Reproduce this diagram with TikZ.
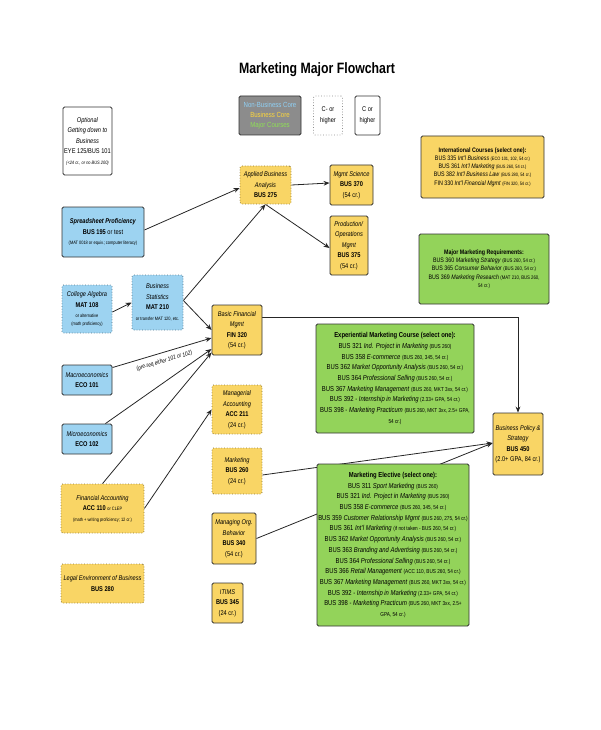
\documentclass[tikz,border=0pt]{standalone}
\usepackage{fontspec}
\setmainfont[FakeStretch=0.82]{Liberation Sans}
\usetikzlibrary{calc,arrows.meta}
\pgfdeclarelayer{bg}
\pgfsetlayers{bg,main}
\definecolor{ylw}{HTML}{F9D565}
\definecolor{blu}{HTML}{9DD3F1}
\definecolor{grn}{HTML}{93D35A}
\definecolor{lgrey}{HTML}{8C8C8C}
\definecolor{legblu}{HTML}{8FD0F5}
\definecolor{legylw}{HTML}{FFD83A}
\definecolor{leggrn}{HTML}{8FE055}
\newcommand{\sm}[1]{{\fontsize{4.8}{6}\selectfont #1}}
\newcommand{\smb}[1]{{\fontsize{5.7}{6}\selectfont #1}}
\newcommand{\smc}[1]{{\fontsize{5.2}{6}\selectfont #1}}
\newcommand{\basef}{\fontsize{6.9}{10.5}\selectfont}
\newcommand{\smallf}{\fontsize{6.5}{8.3}\selectfont}
\newcommand{\elecf}{\fontsize{7.2}{10.7}\selectfont}
\begin{document}
\begin{tikzpicture}[x=1pt,y=-1pt,
  box/.style={rectangle, rounded corners=1.5pt, align=center, inner sep=0.5pt, font=\basef},
  solidline/.style={draw=black!80, line width=0.9pt},
  ysol/.style={box, solidline, fill=ylw},
  bsol/.style={box, solidline, fill=blu},
  gsol/.style={box, solidline, fill=grn},
  wsol/.style={box, solidline, fill=white},
  ydot/.style={box, fill=ylw, draw=ylw!55!black, dotted, line width=0.75pt},
  bdot/.style={box, fill=blu, draw=blu!55!black, dotted, line width=0.75pt},
  wdot/.style={box, fill=white, draw=black!45, dotted, line width=0.75pt},
  legbox/.style={box, solidline, fill=lgrey},
  conn/.style={-{Stealth[length=6pt,width=4.8pt]}, line width=0.8pt, draw=black!85}
]
\useasboundingbox (0,0) rectangle (600,730);

\node[font=\fontsize{15}{17}\selectfont\bfseries] (title) at (317,70) {Marketing Major Flowchart};

\node[wsol, minimum width=49, minimum height=68] (opt) at (87.5,141)
 {\textit{Optional}\\\textit{Getting down to}\\\textit{Business}\\EYE 125/BUS 101\\\sm{\textit{(<24 cr., or no BUS 200)}}};

\node[legbox, font=\fontsize{7.4}{10}\selectfont, minimum width=62, minimum height=39] (leg) at (270,115.5)
 {\textcolor{legblu}{Non-Business Core}\\\textcolor{legylw}{Business Core}\\\textcolor{leggrn}{Major Courses}};
\node[wdot, minimum width=29, minimum height=39] (cm) at (328,115.5) {C- or\\higher};
\node[wsol, minimum width=25, minimum height=39] (cp) at (367.5,115.5) {C or\\higher};

\node[ysol, font=\smallf, minimum width=123, minimum height=62] (intl) at (482.5,167)
 {\textbf{International Courses (select one):}\\
  BUS 335 \textit{Int'l Business} \sm{(ECO 101, 102, 54 cr.)}\\
  BUS 361 \textit{Int'l Marketing} \sm{(BUS 260, 54 cr.)}\\
  BUS 382 \textit{Int'l Business Law} \sm{(BUS 280, 54 cr.)}\\
  FIN 330 \textit{Int'l Financial Mgmt} \sm{(FIN 320, 54 cr.)}};

\node[ydot, minimum width=51, minimum height=38] (abus) at (265.5,185)
 {\textit{Applied Business}\\\textit{Analysis}\\\textbf{BUS 275}};
\node[ysol, minimum width=43, minimum height=40] (msci) at (351.5,185)
 {\textit{Mgmt Science}\\\textbf{BUS 370}\\(54 cr.)};
\node[ysol, minimum width=38, minimum height=59] (prod) at (349,245.5)
 {\textit{Production/}\\\textit{Operations}\\\textit{Mgmt}\\\textbf{BUS 375}\\(54 cr.)};

\node[bsol, minimum width=82, minimum height=50] (sprd) at (103,232)
 {\textbf{\textit{Spreadsheet Proficiency}}\\\textbf{BUS 195} or test\\\sm{(MAT 0018 or equiv.; computer literacy)}};

\node[gsol, font=\smallf, minimum width=130, minimum height=70] (mmr) at (484,269)
 {\textbf{Major Marketing Requirements:}\\
  BUS 360 \textit{Marketing Strategy} \smc{(BUS 260, 54 cr.)}\\
  BUS 365 \textit{Consumer Behavior} \smc{(BUS 260, 54 cr.)}\\
  BUS 369 \textit{Marketing Research} \smc{(MAT 210, BUS 260,}\\
  \smc{54 cr.)}};

\node[bdot, minimum width=50, minimum height=48] (alg) at (87,309)
 {\textit{College Algebra}\\\textbf{MAT 108}\\\sm{or alternative}\\[-3pt]\sm{(math proficiency)}};
\node[bdot, minimum width=51, minimum height=55] (stat) at (157.5,302.5)
 {\textit{Business}\\\textit{Statistics}\\\textbf{MAT 210}\\\sm{or transfer MAT 120, etc.}};
\node[ysol, minimum width=50, minimum height=50] (fin) at (237,330)
 {\textit{Basic Financial}\\\textit{Mgmt}\\\textbf{FIN 320}\\(54 cr.)};

\node[gsol, font=\elecf, minimum width=158, minimum height=109] (exp) at (395,378.5)
 {\textbf{Experiential Marketing Course (select one):}\\
  BUS 321 \textit{Ind. Project in Marketing} \smb{(BUS 260)}\\
  BUS 358 \textit{E-commerce} \smb{(BUS 260, 345, 54 cr.)}\\
  BUS 362 \textit{Market Opportunity Analysis} \smb{(BUS 260, 54 cr.)}\\
  BUS 364 \textit{Professional Selling} \smb{(BUS 260, 54 cr.)}\\
  BUS 367 \textit{Marketing Management} \smb{(BUS 260, MKT 3xx, 54 cr.)}\\
  BUS 392 - \textit{Internship in Marketing} \smb{(2.33+ GPA, 54 cr.)}\\
  BUS 398 - \textit{Marketing Practicum} \smb{(BUS 260, MKT 3xx, 2.5+ GPA,}\\
  \smb{54 cr.)}};

\node[bsol, minimum width=50, minimum height=30] (macro) at (87,380)
 {\textit{Macroeconomics}\\\textbf{ECO 101}};
\node[bsol, minimum width=50, minimum height=30] (micro) at (87,439)
 {\textit{Microeconomics}\\\textbf{ECO 102}};

\node[ydot, minimum width=50, minimum height=49] (mgac) at (237,409.5)
 {\textit{Managerial}\\\textit{Accounting}\\\textbf{ACC 211}\\(24 cr.)};
\node[ysol, minimum width=50, minimum height=62] (bpol) at (518,444)
 {\textit{Business Policy \&}\\\textit{Strategy}\\\textbf{BUS 450}\\(2.0+ GPA, 84 cr.)};
\node[ydot, minimum width=50, minimum height=46] (mkt) at (237,471)
 {\textit{Marketing}\\\textbf{BUS 260}\\(24 cr.)};
\node[ydot, minimum width=83, minimum height=49] (facc) at (102.5,508.5)
 {\textit{Financial Accounting}\\\textbf{ACC 110} \sm{or CLEP}\\\sm{(math + writing proficiency; 12 cr.)}};

\node[gsol, font=\elecf, minimum width=152, minimum height=162] (elec) at (393,545)
 {\textbf{Marketing Elective (select one):}\\
  BUS 311 \textit{Sport Marketing} \smb{(BUS 260)}\\
  BUS 321 \textit{Ind. Project in Marketing} \smb{(BUS 260)}\\
  BUS 358 \textit{E-commerce} \smb{(BUS 260, 345, 54 cr.)}\\
  BUS 359 \textit{Customer Relationship Mgmt} \smb{(BUS 260, 275, 54 cr.)}\\
  BUS 361 \textit{Int'l Marketing} \smb{(if not taken - BUS 260, 54 cr.)}\\
  BUS 362 \textit{Market Opportunity Analysis} \smb{(BUS 260, 54 cr.)}\\
  BUS 363 \textit{Branding and Advertising} \smb{(BUS 260, 54 cr.)}\\
  BUS 364 \textit{Professional Selling} \smb{(BUS 260, 54 cr.)}\\
  BUS 366 \textit{Retail Management} \smb{(ACC 110, BUS 260, 54 cr.)}\\
  BUS 367 \textit{Marketing Management} \smb{(BUS 260, MKT 3xx, 54 cr.)}\\
  BUS 392 - \textit{Internship in Marketing} \smb{(2.33+ GPA, 54 cr.)}\\
  BUS 398 - \textit{Marketing Practicum} \smb{(BUS 260, MKT 3xx, 2.5+}\\
  \smb{GPA, 54 cr.)}};

\node[ydot, minimum width=83, minimum height=39] (legal) at (102.5,583.5)
 {\textit{Legal Environment of Business}\\\textbf{BUS 280}};
\node[ysol, minimum width=44, minimum height=51] (morg) at (234,538.5)
 {\textit{Managing Org.}\\\textit{Behavior}\\\textbf{BUS 340}\\(54 cr.)};
\node[ysol, minimum width=31, minimum height=40] (itims) at (227.5,603)
 {\textit{ITIMS}\\\textbf{BUS 345}\\(24 cr.)};

\begin{pgfonlayer}{bg}
\draw[conn] ([yshift=2pt]sprd.east) -- ([yshift=-3pt]abus.west);
\draw[conn] (abus.east) -- ([yshift=2pt]msci.west);
\draw[conn] (abus.south) -- ([yshift=-2.5pt]prod.west);
\draw[conn] ([yshift=2pt]stat.east) -- (abus.south);
\draw[conn] ([yshift=2pt]stat.east) -- (fin.west);
\draw[conn] ([yshift=-3pt]alg.east) -- (stat.west);
\draw[conn] ([yshift=-3pt]macro.north east) -- node[sloped, below=2pt, font=\fontsize{6}{6}\selectfont\itshape] {(pre-req either 101 or 102)} ([yshift=-8pt]fin.west);
\draw[conn] ([xshift=-7pt]micro.north east) -- ([yshift=-19pt]fin.west);
\draw[conn] (facc.north) -- ([yshift=3pt]fin.south west);
\draw[conn] (facc.east) -- (mgac.west);
\draw[conn] ([yshift=13pt]fin.east) -| (bpol.north);
\draw[conn] ([yshift=-4pt]mkt.east) -- ([yshift=1pt]bpol.west);
\draw[conn] (morg.east) -- ([yshift=1pt]bpol.west);
\end{pgfonlayer}
\end{tikzpicture}
\end{document}
